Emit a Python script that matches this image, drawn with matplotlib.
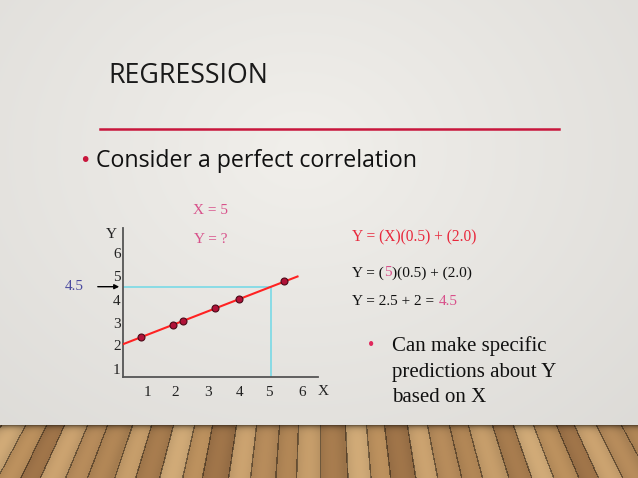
import numpy as np
import matplotlib
matplotlib.use('Agg')
import matplotlib.pyplot as plt

# data: Y = 0.5 X + 2
xs = [0.61, 1.69, 2.04, 3.11, 3.92, 5.45]
ys = [2.31, 2.84, 3.02, 3.56, 3.96, 4.73]
slope = 0.5
intercept = 2.0
x_pred = 5
y_pred = 4.5
xtick_pos = [0.83, 1.76, 2.88, 3.95, 4.93, 6.04]
xtick_lab = ['1', '2', '3', '4', '5', '6']
ytick_pos = [0.93, 1.97, 2.91, 3.92, 4.96, 5.98]
ytick_lab = ['1', '2', '3', '4', '5', '6']

W, H = 638, 478
fig = plt.figure(figsize=(W / 100, H / 100), dpi=100)

# background slide: light gray gradient + wooden floor
bg = fig.add_axes([0, 0, 1, 1])
bg.set_xlim(0, W)
bg.set_ylim(H, 0)
bg.axis('off')
yy, xx = np.mgrid[0:H, 0:W]
d = np.sqrt(((xx - 300) / 520.0) ** 2 + ((yy - 150) / 420.0) ** 2)
lum = 0.945 - 0.085 * d
img = np.dstack([lum, lum * 0.992, lum * 0.975])
img = np.clip(img, 0, 1)

floor_top = 425
plank_w = [22, 19, 24, 21, 18, 23, 20, 25, 19, 22, 21, 18, 24, 20, 23, 19, 22, 25, 21, 18,
           23, 20, 22, 19, 24, 21, 20, 23, 18, 22, 25, 19, 21, 24, 20]
plank_c = [(0.70, 0.53, 0.34), (0.78, 0.62, 0.42), (0.66, 0.49, 0.31), (0.82, 0.67, 0.47),
           (0.74, 0.57, 0.37), (0.63, 0.46, 0.29), (0.80, 0.64, 0.44), (0.72, 0.55, 0.36)]
edges = np.cumsum([0] + plank_w) - 40
fy = yy[floor_top:, :]
fx = xx[floor_top:, :]
k = 1 + (fy - floor_top) * 0.0018
x0 = 319 + (fx - 319) / k
idx = np.searchsorted(edges, x0) % len(plank_c)
floor = np.array(plank_c)[idx]
# soft grain: each plank a bit lighter in its middle
frac = (x0 - edges[np.clip(np.searchsorted(edges, x0) - 1, 0, len(edges) - 1)]) / 22.0
floor = floor * (0.92 + 0.08 * np.sin(np.clip(frac, 0, 1) * np.pi))[..., None]
shade = 1 - 0.45 * np.exp(-(fy - floor_top) / 2.5)
floor = floor * shade[..., None]
for e in edges:
    seam = np.abs(x0 - e) < 0.7
    floor[seam] = floor[seam] * 0.6
img[floor_top:, :, :] = floor
bg.imshow(img, extent=[0, W, H, 0], aspect='auto', zorder=0)

# title and bullets
bg.text(108, 83, 'REGRESSION', fontsize=19.3, family='Open Sans', color='#1a1a1a', va='baseline')
bg.plot([100, 559], [128.5, 128.5], color='#c8163c', lw=1.8)
bg.text(85, 160, '\u2022', fontsize=14, color='#c8163c', va='center', ha='center')
bg.text(96.5, 167, 'Consider a perfect correlation', fontsize=16.7, family='Open Sans',
        color='#111111', va='baseline')

serif = 'Liberation Serif'
bg.text(210.5, 210, 'X = 5', fontsize=11, family=serif, color='#d8508a', ha='center', va='center')
bg.text(210.5, 239, 'Y = ?', fontsize=11, family=serif, color='#d8508a', ha='center', va='center')
bg.text(111.5, 234, 'Y', fontsize=11, family=serif, color='#222222', ha='center', va='center')
bg.text(323, 391.5, 'X', fontsize=11, family=serif, color='#222222', ha='center', va='center')
bg.text(74, 286, '4.5', fontsize=11, family=serif, color='#4a4aa0', ha='center', va='center')
bg.annotate('', xy=(122, 286.7), xytext=(95, 286.7),
            arrowprops=dict(arrowstyle='-|>', color='black', lw=1, mutation_scale=7))

# equations
bg.text(352.5, 237, 'Y = (X)(0.5) + (2.0)', fontsize=11.2, family=serif, color='#e8283c', va='center')
t = bg.text(352.5, 273, 'Y = (', fontsize=11, family=serif, color='#111111', va='center')
fig.canvas.draw()
bb = t.get_window_extent().transformed(bg.transData.inverted())
t2 = bg.text(bb.x1, 273, '5', fontsize=11, family=serif, color='#d8508a', va='center')
bb2 = t2.get_window_extent().transformed(bg.transData.inverted())
bg.text(bb2.x1, 273, ')(0.5) + (2.0)', fontsize=11, family=serif, color='#111111', va='center')
t = bg.text(352.5, 301.5, 'Y = 2.5 + 2 = ', fontsize=11, family=serif, color='#111111', va='center')
bb = t.get_window_extent().transformed(bg.transData.inverted())
bg.text(bb.x1, 301.5, '4.5', fontsize=11, family=serif, color='#d8508a', va='center')

bg.text(371.5, 346, '\u2022', fontsize=13, family=serif, color='#e0285c', ha='center', va='center')
bg.text(392.5, 346, 'Can make specific', fontsize=15, family=serif, color='#111111', va='center')
bg.text(392.5, 372, 'predictions about Y', fontsize=15, family=serif, color='#111111', va='center')
bg.text(392.5, 398, 'based on X', fontsize=15, family=serif, color='#111111', va='center')

# the regression chart itself
left, right, bottom, top = 122.7, 318, 376.7, 228
ax = fig.add_axes([left / W, (H - bottom) / H, (right - left) / W, (bottom - top) / H])
ax.patch.set_alpha(0)
ax.set_xlim(0, 6.58)
ax.set_ylim(0.594, 7.05)
for s in ['top', 'right']:
    ax.spines[s].set_visible(False)
for s in ['left', 'bottom']:
    ax.spines[s].set_color('#555555')
    ax.spines[s].set_linewidth(1.3)

lx = np.array([0, 5.89])
ax.plot(lx, slope * lx + intercept, color='#ff2222', lw=1.5, zorder=3)
ax.plot([0, x_pred], [y_pred, y_pred], color='#6fd8e6', lw=1.1, zorder=2)
ax.plot([x_pred, x_pred], [0.594, y_pred], color='#6fd8e6', lw=1.1, zorder=2)
ax.plot(xs, ys, 'o', markersize=5, markerfacecolor='#b01238', markeredgecolor='#4a0a18',
        markeredgewidth=0.8, zorder=4)

ax.set_xticks(xtick_pos)
ax.set_xticklabels(xtick_lab, family=serif, fontsize=11, color='#222222')
ax.set_yticks(ytick_pos)
ax.set_yticklabels(ytick_lab, family=serif, fontsize=11, color='#222222')
ax.tick_params(axis='x', length=0, pad=7)
ax.tick_params(axis='y', length=0, pad=1.5)

fig.savefig('out.png', dpi=100)
